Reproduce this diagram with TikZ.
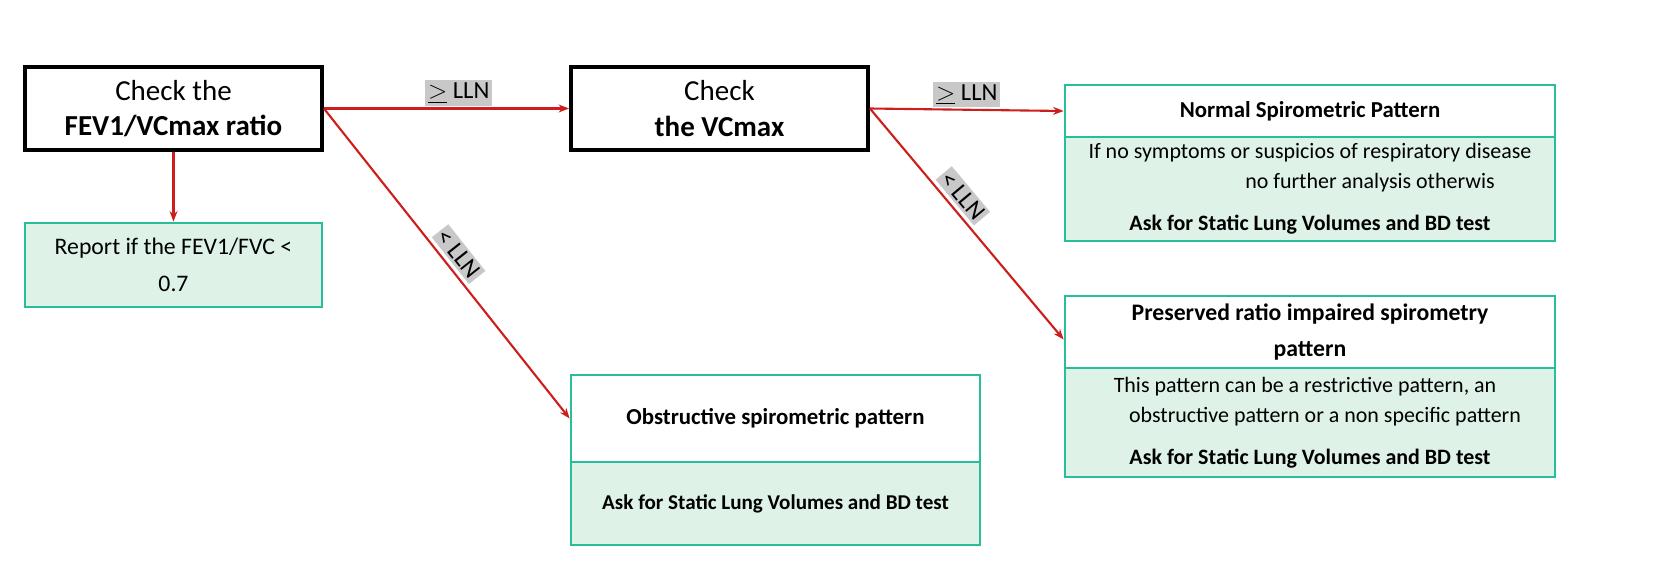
\documentclass[tikz,border=0pt]{standalone}
\usepackage{fontspec}
\setmainfont{Carlito}
\usetikzlibrary{arrows.meta}
\definecolor{tealline}{RGB}{40,190,155}
\definecolor{lightgreen}{RGB}{222,242,232}
\definecolor{arrowred}{RGB}{205,30,30}
\definecolor{tagback}{RGB}{200,200,200}
\begin{document}
\begin{tikzpicture}[x=0.02cm, y=-0.02cm, >={Stealth[length=6pt,width=4.5pt]},
  check/.style={draw=black, line width=2.2pt, minimum width=5.94cm, minimum height=1.66cm, align=center, font=\fontsize{16.5}{20}\selectfont},
  head/.style={draw=tealline, line width=1.6pt, fill=white, minimum width=9.8cm, align=center, font=\bfseries\fontsize{13}{17}\selectfont},
  body/.style={draw=tealline, line width=1.6pt, fill=lightgreen, minimum width=9.8cm, align=center, font=\fontsize{12.5}{17}\selectfont},
  link/.style={->, draw=arrowred, line width=1.2pt},
  tag/.style={fill=tagback, inner sep=1.5pt, font=\fontsize{14}{16}\selectfont}]
\useasboundingbox (0,0) rectangle (1653,585);
% first column
\node[check] (ratio) at (173.5,108.5) {Check the\\ \textbf{FEV1/VCmax ratio}};
\node[body, minimum width=5.94cm, minimum height=1.68cm, font=\fontsize{13.5}{21}\selectfont] (report) at (173.5,265) {Report if the FEV1/FVC <\\ 0.7};
% second column
\node[check] (vcmax) at (719.5,108.5) {Check\\ \textbf{the VCmax}};
\node[head, minimum width=8.18cm, minimum height=1.74cm] (obstr) at (775.5,418.5) {Obstructive spirometric pattern};
\node[body, minimum width=8.18cm, minimum height=1.66cm, font=\bfseries\fontsize{12}{14}\selectfont] (obstrbody) at (775.5,503.5) {Ask for Static Lung Volumes and BD test};
% third column
\node[head, minimum height=1.04cm] (normal) at (1310,111) {Normal Spirometric Pattern};
\node[body, minimum height=2.08cm] (normalbody) at (1310,189) {If no symptoms or suspicios of respiratory disease\\ \hspace*{2.4cm}no further analysis otherwis\\[7pt] \textbf{Ask for Static Lung Volumes and BD test}};
\node[head, minimum height=1.44cm, font=\bfseries\fontsize{13.5}{20}\selectfont] (preserved) at (1310,332) {Preserved ratio impaired spirometry\\ pattern};
\node[body, minimum height=2.18cm] (preservedbody) at (1310,422.5) {\hspace*{-0.2cm}This pattern can be a restrictive pattern, an\\ \hspace*{0.6cm}obstructive pattern or a non specific pattern\\[7pt] \textbf{Ask for Static Lung Volumes and BD test}};
% connectors
\coordinate (ratioout) at (ratio.east);
\coordinate (vcout) at (vcmax.east);
\draw[link] (ratio.south) -- (report.north);
\draw[link] (ratioout) -- (vcmax.west) node[pos=0.55, above=1pt, tag] {$\underline{>}$ LLN};
\draw[link] (ratioout) -- (obstr.west) node[pos=0.5, sloped, above=2pt, tag] {< LLN};
\draw[link] (vcout) -- (normal.west) node[pos=0.5, above=1pt, tag] {$\underline{>}$ LLN};
\draw[link] (vcout) -- ([yshift=-0.15cm]preserved.west) node[pos=0.42, sloped, above=2pt, tag] {< LLN};
\end{tikzpicture}
\end{document}
